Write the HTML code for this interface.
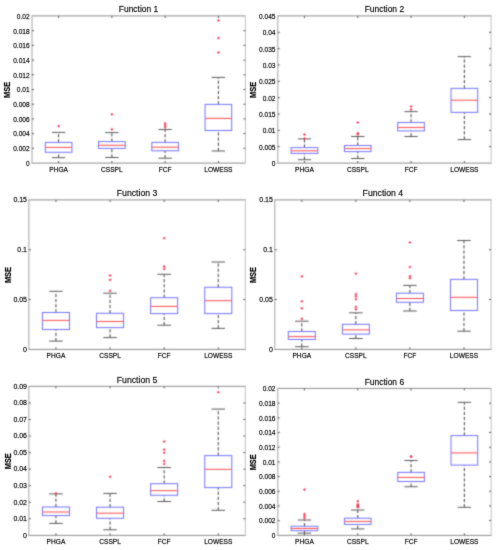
<!DOCTYPE html>
<html><head><meta charset="utf-8"><title>Boxplots</title>
<style>
html,body{margin:0;padding:0;background:#fff;}
body{width:496px;height:550px;overflow:hidden;}
svg{display:block;}
text{font-family:"Liberation Sans",Arial,Helvetica,sans-serif;fill:#000;stroke:#000;stroke-width:0.3px;stroke-opacity:0.5;}
.tl{font-size:6.6px;}
.tt{font-size:8.7px;}
.yl{font-size:7.4px;font-weight:bold;}
</style></head><body>
<svg width="496" height="550" viewBox="0 0 496 550">
<defs><filter id="bl" x="0" y="0" width="496" height="550" filterUnits="userSpaceOnUse" color-interpolation-filters="sRGB"><feConvolveMatrix order="3" kernelMatrix="0.0324 0.1152 0.0324 0.1152 0.4096 0.1152 0.0324 0.1152 0.0324" edgeMode="duplicate"/></filter><filter id="bt" x="0" y="0" width="496" height="550" filterUnits="userSpaceOnUse" color-interpolation-filters="sRGB"><feConvolveMatrix order="3" kernelMatrix="0.0100 0.0800 0.0100 0.0800 0.6400 0.0800 0.0100 0.0800 0.0100" edgeMode="duplicate"/></filter></defs>
<g filter="url(#bl)">
<rect width="496" height="550" fill="#fff"/>
<path d="M113 185.6H159M360 185.6H407" stroke="#efefef" stroke-width="1" stroke-dasharray="2 1" fill="none"/>
<g>
<path d="M31.5 15.9H245.5M31.5 163.1H245.5" stroke="#8c8c8c" stroke-width="1" fill="none"/>
<path d="M32 16V163" stroke="#a4a4a4" stroke-width="1" fill="none"/>
<path d="M245.4 16V163" stroke="#c0c0c0" stroke-width="1" fill="none"/>
<path d="M32 148.3h2M245.4 148.3h-2M32 133.6h2M245.4 133.6h-2M32 118.9h2M245.4 118.9h-2M32 104.2h2M245.4 104.2h-2M32 89.5h2M245.4 89.5h-2M32 74.8h2M245.4 74.8h-2M32 60.1h2M245.4 60.1h-2M32 45.4h2M245.4 45.4h-2M32 30.7h2M245.4 30.7h-2M58.62 163v-2M58.62 16v2M111.88 163v-2M111.88 16v2M165.12 163v-2M165.12 16v2M218.38 163v-2M218.38 16v2" stroke="#5a5a5a" stroke-width="1" fill="none"/>
<path d="M58.62 142.4V132.4M58.62 157.7V152.3" stroke="#444444" stroke-width="1.0" stroke-dasharray="3.2 1.95" fill="none"/>
<path d="M51.97 132.4H65.28M51.97 157.7H65.28" stroke="#5a5a5a" stroke-width="1.0" fill="none"/>
<rect x="45.31" y="142.4" width="26.62" height="9.9" fill="none" stroke="#7373ff" stroke-width="1.0"/>
<path d="M45.31 147.4H71.94" stroke="#ff4b4b" stroke-width="1.0" fill="none"/>
<path d="M57.38 126.1h2.5M58.62 124.85v2.5" stroke="#ff2a48" stroke-width="1.0" fill="none"/>
<path d="M111.88 141.6V132.6M111.88 157.5V148.4" stroke="#444444" stroke-width="1.0" stroke-dasharray="3.2 1.95" fill="none"/>
<path d="M105.22 132.6H118.53M105.22 157.5H118.53" stroke="#5a5a5a" stroke-width="1.0" fill="none"/>
<rect x="98.56" y="141.6" width="26.62" height="6.8" fill="none" stroke="#7373ff" stroke-width="1.0"/>
<path d="M98.56 145.3H125.19" stroke="#ff4b4b" stroke-width="1.0" fill="none"/>
<path d="M110.62 114.3h2.5M111.88 113.05v2.5M110.62 129.4h2.5M111.88 128.15v2.5" stroke="#ff2a48" stroke-width="1.0" fill="none"/>
<path d="M165.12 142.4V129.5M165.12 158.2V150.8" stroke="#444444" stroke-width="1.0" stroke-dasharray="3.2 1.95" fill="none"/>
<path d="M158.47 129.5H171.78M158.47 158.2H171.78" stroke="#5a5a5a" stroke-width="1.0" fill="none"/>
<rect x="151.81" y="142.4" width="26.62" height="8.4" fill="none" stroke="#7373ff" stroke-width="1.0"/>
<path d="M151.81 147.2H178.44" stroke="#ff4b4b" stroke-width="1.0" fill="none"/>
<path d="M163.88 123.3h2.5M165.12 122.05v2.5M163.88 125.4h2.5M165.12 124.15v2.5M163.88 127.4h2.5M165.12 126.15v2.5" stroke="#ff2a48" stroke-width="1.0" fill="none"/>
<path d="M218.38 104.4V77.4M218.38 151V130.5" stroke="#444444" stroke-width="1.0" stroke-dasharray="3.2 1.95" fill="none"/>
<path d="M211.72 77.4H225.03M211.72 151H225.03" stroke="#5a5a5a" stroke-width="1.0" fill="none"/>
<rect x="205.06" y="104.4" width="26.62" height="26.1" fill="none" stroke="#7373ff" stroke-width="1.0"/>
<path d="M205.06 118.4H231.69" stroke="#ff4b4b" stroke-width="1.0" fill="none"/>
<path d="M217.12 20.5h2.5M218.38 19.25v2.5M217.12 38h2.5M218.38 36.75v2.5M217.12 52.5h2.5M218.38 51.25v2.5" stroke="#ff2a48" stroke-width="1.0" fill="none"/>
</g>
<g>
<path d="M277.3 15.9H491.5M277.3 163.1H491.5" stroke="#8c8c8c" stroke-width="1" fill="none"/>
<path d="M277.8 16V163" stroke="#a4a4a4" stroke-width="1" fill="none"/>
<path d="M491.05 16V163" stroke="#c0c0c0" stroke-width="1" fill="none"/>
<path d="M277.8 146.67h2M491.05 146.67h-2M277.8 130.33h2M491.05 130.33h-2M277.8 114h2M491.05 114h-2M277.8 97.67h2M491.05 97.67h-2M277.8 81.33h2M491.05 81.33h-2M277.8 65h2M491.05 65h-2M277.8 48.67h2M491.05 48.67h-2M277.8 32.33h2M491.05 32.33h-2M304.45 163v-2M304.45 16v2M357.75 163v-2M357.75 16v2M411.05 163v-2M411.05 16v2M464.35 163v-2M464.35 16v2" stroke="#5a5a5a" stroke-width="1" fill="none"/>
<path d="M304.45 147.6V138.9M304.45 159.7V153.4" stroke="#444444" stroke-width="1.0" stroke-dasharray="3.2 1.95" fill="none"/>
<path d="M297.79 138.9H311.11M297.79 159.7H311.11" stroke="#5a5a5a" stroke-width="1.0" fill="none"/>
<rect x="291.12" y="147.6" width="26.65" height="5.8" fill="none" stroke="#7373ff" stroke-width="1.0"/>
<path d="M291.12 150.8H317.77" stroke="#ff4b4b" stroke-width="1.0" fill="none"/>
<path d="M303.2 134.5h2.5M304.45 133.25v2.5M303.2 138.5h2.5M304.45 137.25v2.5" stroke="#ff2a48" stroke-width="1.0" fill="none"/>
<path d="M357.75 145.5V136.5M357.75 158.5V151.6" stroke="#444444" stroke-width="1.0" stroke-dasharray="3.2 1.95" fill="none"/>
<path d="M351.09 136.5H364.41M351.09 158.5H364.41" stroke="#5a5a5a" stroke-width="1.0" fill="none"/>
<rect x="344.43" y="145.5" width="26.65" height="6.1" fill="none" stroke="#7373ff" stroke-width="1.0"/>
<path d="M344.43 148.6H371.07" stroke="#ff4b4b" stroke-width="1.0" fill="none"/>
<path d="M356.5 122.5h2.5M357.75 121.25v2.5M356.5 133.2h2.5M357.75 131.95v2.5M356.5 134.4h2.5M357.75 133.15v2.5" stroke="#ff2a48" stroke-width="1.0" fill="none"/>
<path d="M411.05 122.5V111.6M411.05 136.5V130.9" stroke="#444444" stroke-width="1.0" stroke-dasharray="3.2 1.95" fill="none"/>
<path d="M404.39 111.6H417.71M404.39 136.5H417.71" stroke="#5a5a5a" stroke-width="1.0" fill="none"/>
<rect x="397.73" y="122.5" width="26.65" height="8.4" fill="none" stroke="#7373ff" stroke-width="1.0"/>
<path d="M397.73 127.5H424.38" stroke="#ff4b4b" stroke-width="1.0" fill="none"/>
<path d="M409.8 106.5h2.5M411.05 105.25v2.5M409.8 109.6h2.5M411.05 108.35v2.5" stroke="#ff2a48" stroke-width="1.0" fill="none"/>
<path d="M464.35 88.4V56.6M464.35 139.6V112.4" stroke="#444444" stroke-width="1.0" stroke-dasharray="3.2 1.95" fill="none"/>
<path d="M457.69 56.6H471.01M457.69 139.6H471.01" stroke="#5a5a5a" stroke-width="1.0" fill="none"/>
<rect x="451.03" y="88.4" width="26.65" height="24" fill="none" stroke="#7373ff" stroke-width="1.0"/>
<path d="M451.03 100.2H477.68" stroke="#ff4b4b" stroke-width="1.0" fill="none"/>
</g>
<g>
<path d="M28.4 199.9H245.8M28.4 349.4H245.8" stroke="#8c8c8c" stroke-width="1" fill="none"/>
<path d="M28.9 200V349.3" stroke="#a4a4a4" stroke-width="1" fill="none"/>
<path d="M245.3 200V349.3" stroke="#c0c0c0" stroke-width="1" fill="none"/>
<path d="M28.9 299.53h2M245.3 299.53h-2M28.9 249.77h2M245.3 249.77h-2M55.95 349.3v-2M55.95 200v2M110.05 349.3v-2M110.05 200v2M164.15 349.3v-2M164.15 200v2M218.25 349.3v-2M218.25 200v2" stroke="#5a5a5a" stroke-width="1" fill="none"/>
<path d="M55.95 312.5V291.3M55.95 341.1V329.5" stroke="#444444" stroke-width="1.0" stroke-dasharray="3.2 1.95" fill="none"/>
<path d="M49.19 291.3H62.71M49.19 341.1H62.71" stroke="#5a5a5a" stroke-width="1.0" fill="none"/>
<rect x="42.43" y="312.5" width="27.05" height="17" fill="none" stroke="#7373ff" stroke-width="1.0"/>
<path d="M42.43 320.4H69.48" stroke="#ff4b4b" stroke-width="1.0" fill="none"/>
<path d="M110.05 313.3V293.2M110.05 337.6V327.6" stroke="#444444" stroke-width="1.0" stroke-dasharray="3.2 1.95" fill="none"/>
<path d="M103.29 293.2H116.81M103.29 337.6H116.81" stroke="#5a5a5a" stroke-width="1.0" fill="none"/>
<rect x="96.53" y="313.3" width="27.05" height="14.3" fill="none" stroke="#7373ff" stroke-width="1.0"/>
<path d="M96.53 321.5H123.58" stroke="#ff4b4b" stroke-width="1.0" fill="none"/>
<path d="M108.8 275.5h2.5M110.05 274.25v2.5M108.8 279.9h2.5M110.05 278.65v2.5M108.8 290.9h2.5M110.05 289.65v2.5" stroke="#ff2a48" stroke-width="1.0" fill="none"/>
<path d="M164.15 297.7V274.3M164.15 325.2V313.6" stroke="#444444" stroke-width="1.0" stroke-dasharray="3.2 1.95" fill="none"/>
<path d="M157.39 274.3H170.91M157.39 325.2H170.91" stroke="#5a5a5a" stroke-width="1.0" fill="none"/>
<rect x="150.62" y="297.7" width="27.05" height="15.9" fill="none" stroke="#7373ff" stroke-width="1.0"/>
<path d="M150.62 306.4H177.68" stroke="#ff4b4b" stroke-width="1.0" fill="none"/>
<path d="M162.9 238.2h2.5M164.15 236.95v2.5M162.9 266.4h2.5M164.15 265.15v2.5M162.9 268.9h2.5M164.15 267.65v2.5" stroke="#ff2a48" stroke-width="1.0" fill="none"/>
<path d="M218.25 287.3V262M218.25 328.4V313.6" stroke="#444444" stroke-width="1.0" stroke-dasharray="3.2 1.95" fill="none"/>
<path d="M211.49 262H225.01M211.49 328.4H225.01" stroke="#5a5a5a" stroke-width="1.0" fill="none"/>
<rect x="204.72" y="287.3" width="27.05" height="26.3" fill="none" stroke="#7373ff" stroke-width="1.0"/>
<path d="M204.72 300.7H231.78" stroke="#ff4b4b" stroke-width="1.0" fill="none"/>
</g>
<g>
<path d="M274.3 199.9H491.5M274.3 349.4H491.5" stroke="#8c8c8c" stroke-width="1" fill="none"/>
<path d="M274.8 200V349.3" stroke="#a4a4a4" stroke-width="1" fill="none"/>
<path d="M491 200V349.3" stroke="#c0c0c0" stroke-width="1" fill="none"/>
<path d="M274.8 299.53h2M491 299.53h-2M274.8 249.77h2M491 249.77h-2M301.82 349.3v-2M301.82 200v2M355.88 349.3v-2M355.88 200v2M409.93 349.3v-2M409.93 200v2M463.98 349.3v-2M463.98 200v2" stroke="#5a5a5a" stroke-width="1" fill="none"/>
<path d="M301.82 331.5V321.2M301.82 346.7V339.5" stroke="#444444" stroke-width="1.0" stroke-dasharray="3.2 1.95" fill="none"/>
<path d="M295.07 321.2H308.58M295.07 346.7H308.58" stroke="#5a5a5a" stroke-width="1.0" fill="none"/>
<rect x="288.31" y="331.5" width="27.02" height="8" fill="none" stroke="#7373ff" stroke-width="1.0"/>
<path d="M288.31 336.6H315.34" stroke="#ff4b4b" stroke-width="1.0" fill="none"/>
<path d="M300.57 276.4h2.5M301.82 275.15v2.5M300.57 301.4h2.5M301.82 300.15v2.5M300.57 308.3h2.5M301.82 307.05v2.5M300.57 318.9h2.5M301.82 317.65v2.5" stroke="#ff2a48" stroke-width="1.0" fill="none"/>
<path d="M355.88 324.3V312.8M355.88 338.5V334.1" stroke="#444444" stroke-width="1.0" stroke-dasharray="3.2 1.95" fill="none"/>
<path d="M349.12 312.8H362.63M349.12 338.5H362.63" stroke="#5a5a5a" stroke-width="1.0" fill="none"/>
<rect x="342.36" y="324.3" width="27.02" height="9.8" fill="none" stroke="#7373ff" stroke-width="1.0"/>
<path d="M342.36 329.9H369.39" stroke="#ff4b4b" stroke-width="1.0" fill="none"/>
<path d="M354.62 273.7h2.5M355.88 272.45v2.5M354.62 294.1h2.5M355.88 292.85v2.5M354.62 296.3h2.5M355.88 295.05v2.5M354.62 299.2h2.5M355.88 297.95v2.5M354.62 306.9h2.5M355.88 305.65v2.5M354.62 309.4h2.5M355.88 308.15v2.5" stroke="#ff2a48" stroke-width="1.0" fill="none"/>
<path d="M409.93 293.2V285.4M409.93 311V302.3" stroke="#444444" stroke-width="1.0" stroke-dasharray="3.2 1.95" fill="none"/>
<path d="M403.17 285.4H416.68M403.17 311H416.68" stroke="#5a5a5a" stroke-width="1.0" fill="none"/>
<rect x="396.41" y="293.2" width="27.02" height="9.1" fill="none" stroke="#7373ff" stroke-width="1.0"/>
<path d="M396.41 298.5H423.44" stroke="#ff4b4b" stroke-width="1.0" fill="none"/>
<path d="M408.68 242.5h2.5M409.93 241.25v2.5M408.68 267h2.5M409.93 265.75v2.5M408.68 276.2h2.5M409.93 274.95v2.5M408.68 278.2h2.5M409.93 276.95v2.5" stroke="#ff2a48" stroke-width="1.0" fill="none"/>
<path d="M463.98 279.4V240.5M463.98 331.2V310.5" stroke="#444444" stroke-width="1.0" stroke-dasharray="3.2 1.95" fill="none"/>
<path d="M457.22 240.5H470.73M457.22 331.2H470.73" stroke="#5a5a5a" stroke-width="1.0" fill="none"/>
<rect x="450.46" y="279.4" width="27.02" height="31.1" fill="none" stroke="#7373ff" stroke-width="1.0"/>
<path d="M450.46 297.3H477.49" stroke="#ff4b4b" stroke-width="1.0" fill="none"/>
</g>
<g>
<path d="M28.4 386.3H245.8M28.4 535.4H245.8" stroke="#8c8c8c" stroke-width="1" fill="none"/>
<path d="M28.9 386.4V535.3" stroke="#a4a4a4" stroke-width="1" fill="none"/>
<path d="M245.3 386.4V535.3" stroke="#c0c0c0" stroke-width="1" fill="none"/>
<path d="M28.9 518.76h2M245.3 518.76h-2M28.9 502.21h2M245.3 502.21h-2M28.9 485.67h2M245.3 485.67h-2M28.9 469.12h2M245.3 469.12h-2M28.9 452.58h2M245.3 452.58h-2M28.9 436.03h2M245.3 436.03h-2M28.9 419.49h2M245.3 419.49h-2M28.9 402.94h2M245.3 402.94h-2M55.95 535.3v-2M55.95 386.4v2M110.05 535.3v-2M110.05 386.4v2M164.15 535.3v-2M164.15 386.4v2M218.25 535.3v-2M218.25 386.4v2" stroke="#5a5a5a" stroke-width="1" fill="none"/>
<path d="M55.95 507V493.9M55.95 523.4V515.6" stroke="#444444" stroke-width="1.0" stroke-dasharray="3.2 1.95" fill="none"/>
<path d="M49.19 493.9H62.71M49.19 523.4H62.71" stroke="#5a5a5a" stroke-width="1.0" fill="none"/>
<rect x="42.43" y="507" width="27.05" height="8.6" fill="none" stroke="#7373ff" stroke-width="1.0"/>
<path d="M42.43 512H69.48" stroke="#ff4b4b" stroke-width="1.0" fill="none"/>
<path d="M54.7 493.4h2.5M55.95 492.15v2.5" stroke="#ff2a48" stroke-width="1.0" fill="none"/>
<path d="M110.05 507.2V493.4M110.05 529.8V518.3" stroke="#444444" stroke-width="1.0" stroke-dasharray="3.2 1.95" fill="none"/>
<path d="M103.29 493.4H116.81M103.29 529.8H116.81" stroke="#5a5a5a" stroke-width="1.0" fill="none"/>
<rect x="96.53" y="507.2" width="27.05" height="11.1" fill="none" stroke="#7373ff" stroke-width="1.0"/>
<path d="M96.53 513.2H123.58" stroke="#ff4b4b" stroke-width="1.0" fill="none"/>
<path d="M108.8 476.8h2.5M110.05 475.55v2.5" stroke="#ff2a48" stroke-width="1.0" fill="none"/>
<path d="M164.15 483.7V467.5M164.15 501.5V495.3" stroke="#444444" stroke-width="1.0" stroke-dasharray="3.2 1.95" fill="none"/>
<path d="M157.39 467.5H170.91M157.39 501.5H170.91" stroke="#5a5a5a" stroke-width="1.0" fill="none"/>
<rect x="150.62" y="483.7" width="27.05" height="11.6" fill="none" stroke="#7373ff" stroke-width="1.0"/>
<path d="M150.62 490.7H177.68" stroke="#ff4b4b" stroke-width="1.0" fill="none"/>
<path d="M162.9 441.6h2.5M164.15 440.35v2.5M162.9 449.6h2.5M164.15 448.35v2.5M162.9 452.8h2.5M164.15 451.55v2.5M162.9 460.9h2.5M164.15 459.65v2.5M162.9 464h2.5M164.15 462.75v2.5" stroke="#ff2a48" stroke-width="1.0" fill="none"/>
<path d="M218.25 455.6V409.1M218.25 510.3V487.6" stroke="#444444" stroke-width="1.0" stroke-dasharray="3.2 1.95" fill="none"/>
<path d="M211.49 409.1H225.01M211.49 510.3H225.01" stroke="#5a5a5a" stroke-width="1.0" fill="none"/>
<rect x="204.72" y="455.6" width="27.05" height="32" fill="none" stroke="#7373ff" stroke-width="1.0"/>
<path d="M204.72 469.3H231.78" stroke="#ff4b4b" stroke-width="1.0" fill="none"/>
<path d="M217 392.2h2.5M218.25 390.95v2.5" stroke="#ff2a48" stroke-width="1.0" fill="none"/>
</g>
<g>
<path d="M277.3 388.4H491.5M277.3 535.4H491.5" stroke="#8c8c8c" stroke-width="1" fill="none"/>
<path d="M277.8 388.5V535.3" stroke="#a4a4a4" stroke-width="1" fill="none"/>
<path d="M491.1 388.5V535.3" stroke="#c0c0c0" stroke-width="1" fill="none"/>
<path d="M277.8 520.62h2M491.1 520.62h-2M277.8 505.94h2M491.1 505.94h-2M277.8 491.26h2M491.1 491.26h-2M277.8 476.58h2M491.1 476.58h-2M277.8 461.9h2M491.1 461.9h-2M277.8 447.22h2M491.1 447.22h-2M277.8 432.54h2M491.1 432.54h-2M277.8 417.86h2M491.1 417.86h-2M277.8 403.18h2M491.1 403.18h-2M304.45 535.3v-2M304.45 388.5v2M357.75 535.3v-2M357.75 388.5v2M411.05 535.3v-2M411.05 388.5v2M464.35 535.3v-2M464.35 388.5v2" stroke="#5a5a5a" stroke-width="1" fill="none"/>
<path d="M304.45 526.3V520M304.45 533.2V530.7" stroke="#444444" stroke-width="1.0" stroke-dasharray="3.2 1.95" fill="none"/>
<path d="M297.79 520H311.11M297.79 533.2H311.11" stroke="#5a5a5a" stroke-width="1.0" fill="none"/>
<rect x="291.12" y="526.3" width="26.65" height="4.4" fill="none" stroke="#7373ff" stroke-width="1.0"/>
<path d="M291.12 528.5H317.77" stroke="#ff4b4b" stroke-width="1.0" fill="none"/>
<path d="M303.2 489.6h2.5M304.45 488.35v2.5M303.2 514.1h2.5M304.45 512.85v2.5M303.2 516h2.5M304.45 514.75v2.5M303.2 518.1h2.5M304.45 516.85v2.5" stroke="#ff2a48" stroke-width="1.0" fill="none"/>
<path d="M357.75 518.2V510M357.75 528.9V524.4" stroke="#444444" stroke-width="1.0" stroke-dasharray="3.2 1.95" fill="none"/>
<path d="M351.09 510H364.41M351.09 528.9H364.41" stroke="#5a5a5a" stroke-width="1.0" fill="none"/>
<rect x="344.43" y="518.2" width="26.65" height="6.2" fill="none" stroke="#7373ff" stroke-width="1.0"/>
<path d="M344.43 521.4H371.07" stroke="#ff4b4b" stroke-width="1.0" fill="none"/>
<path d="M356.5 501.2h2.5M357.75 499.95v2.5M356.5 504.3h2.5M357.75 503.05v2.5M356.5 505.5h2.5M357.75 504.25v2.5M356.5 506.5h2.5M357.75 505.25v2.5M356.5 507.3h2.5M357.75 506.05v2.5" stroke="#ff2a48" stroke-width="1.0" fill="none"/>
<path d="M411.05 472.4V460.5M411.05 486.7V481.5" stroke="#444444" stroke-width="1.0" stroke-dasharray="3.2 1.95" fill="none"/>
<path d="M404.39 460.5H417.71M404.39 486.7H417.71" stroke="#5a5a5a" stroke-width="1.0" fill="none"/>
<rect x="397.73" y="472.4" width="26.65" height="9.1" fill="none" stroke="#7373ff" stroke-width="1.0"/>
<path d="M397.73 477.4H424.38" stroke="#ff4b4b" stroke-width="1.0" fill="none"/>
<path d="M409.8 456.3h2.5M411.05 455.05v2.5M409.8 456.8h2.5M411.05 455.55v2.5" stroke="#ff2a48" stroke-width="1.0" fill="none"/>
<path d="M464.35 435.6V402.3M464.35 507.3V465.1" stroke="#444444" stroke-width="1.0" stroke-dasharray="3.2 1.95" fill="none"/>
<path d="M457.69 402.3H471.01M457.69 507.3H471.01" stroke="#5a5a5a" stroke-width="1.0" fill="none"/>
<rect x="451.03" y="435.6" width="26.65" height="29.5" fill="none" stroke="#7373ff" stroke-width="1.0"/>
<path d="M451.03 452.9H477.68" stroke="#ff4b4b" stroke-width="1.0" fill="none"/>
</g>
</g>
<g filter="url(#bt)">
<text class="tl" x="29.7" y="165.84" text-anchor="end" style="font-size:6.6px">0</text>
<text class="tl" x="29.7" y="151.14" text-anchor="end" style="font-size:6.6px">0.002</text>
<text class="tl" x="29.7" y="136.44" text-anchor="end" style="font-size:6.6px">0.004</text>
<text class="tl" x="29.7" y="121.74" text-anchor="end" style="font-size:6.6px">0.006</text>
<text class="tl" x="29.7" y="107.04" text-anchor="end" style="font-size:6.6px">0.008</text>
<text class="tl" x="29.7" y="92.34" text-anchor="end" style="font-size:6.6px">0.01</text>
<text class="tl" x="29.7" y="77.64" text-anchor="end" style="font-size:6.6px">0.012</text>
<text class="tl" x="29.7" y="62.94" text-anchor="end" style="font-size:6.6px">0.014</text>
<text class="tl" x="29.7" y="48.24" text-anchor="end" style="font-size:6.6px">0.016</text>
<text class="tl" x="29.7" y="33.54" text-anchor="end" style="font-size:6.6px">0.018</text>
<text class="tl" x="29.7" y="18.84" text-anchor="end" style="font-size:6.6px">0.02</text>
<text class="tl" x="58.62" y="171.8" text-anchor="middle">PHGA</text>
<text class="tl" x="111.88" y="171.8" text-anchor="middle">CSSPL</text>
<text class="tl" x="165.12" y="171.8" text-anchor="middle">FCF</text>
<text class="tl" x="218.38" y="171.8" text-anchor="middle">LOWESS</text>
<text class="tt" x="138.5" y="12.2" text-anchor="middle" style="font-size:8.45px">Function 1</text>
<text class="yl" x="0" y="0" text-anchor="middle" transform="translate(10.15 89.9) rotate(-90) scale(1 1.12)">MSE</text>
<text class="tl" x="275.5" y="165.84" text-anchor="end" style="font-size:6.6px">0</text>
<text class="tl" x="275.5" y="149.51" text-anchor="end" style="font-size:6.6px">0.005</text>
<text class="tl" x="275.5" y="133.18" text-anchor="end" style="font-size:6.6px">0.01</text>
<text class="tl" x="275.5" y="116.84" text-anchor="end" style="font-size:6.6px">0.015</text>
<text class="tl" x="275.5" y="100.51" text-anchor="end" style="font-size:6.6px">0.02</text>
<text class="tl" x="275.5" y="84.18" text-anchor="end" style="font-size:6.6px">0.025</text>
<text class="tl" x="275.5" y="67.84" text-anchor="end" style="font-size:6.6px">0.03</text>
<text class="tl" x="275.5" y="51.51" text-anchor="end" style="font-size:6.6px">0.035</text>
<text class="tl" x="275.5" y="35.18" text-anchor="end" style="font-size:6.6px">0.04</text>
<text class="tl" x="275.5" y="18.84" text-anchor="end" style="font-size:6.6px">0.045</text>
<text class="tl" x="304.45" y="171.8" text-anchor="middle">PHGA</text>
<text class="tl" x="357.75" y="171.8" text-anchor="middle">CSSPL</text>
<text class="tl" x="411.05" y="171.8" text-anchor="middle">FCF</text>
<text class="tl" x="464.35" y="171.8" text-anchor="middle">LOWESS</text>
<text class="tt" x="384.4" y="12.2" text-anchor="middle" style="font-size:8.45px">Function 2</text>
<text class="yl" x="0" y="0" text-anchor="middle" transform="translate(256.1 89.9) rotate(-90) scale(1 1.12)">MSE</text>
<text class="tl" x="27" y="351.59" text-anchor="end" style="font-size:7.0px">0</text>
<text class="tl" x="27" y="301.82" text-anchor="end" style="font-size:7.0px">0.05</text>
<text class="tl" x="27" y="252.06" text-anchor="end" style="font-size:7.0px">0.1</text>
<text class="tl" x="27" y="202.29" text-anchor="end" style="font-size:7.0px">0.15</text>
<text class="tl" x="55.95" y="358.1" text-anchor="middle">PHGA</text>
<text class="tl" x="110.05" y="358.1" text-anchor="middle">CSSPL</text>
<text class="tl" x="164.15" y="358.1" text-anchor="middle">FCF</text>
<text class="tl" x="218.25" y="358.1" text-anchor="middle">LOWESS</text>
<text class="tt" x="137.1" y="196.2" text-anchor="middle" style="font-size:8.7px">Function 3</text>
<text class="yl" x="0" y="0" text-anchor="middle" transform="translate(10.95 275.05) rotate(-90) scale(1 1.12)">MSE</text>
<text class="tl" x="272.9" y="351.59" text-anchor="end" style="font-size:7.0px">0</text>
<text class="tl" x="272.9" y="301.82" text-anchor="end" style="font-size:7.0px">0.05</text>
<text class="tl" x="272.9" y="252.06" text-anchor="end" style="font-size:7.0px">0.1</text>
<text class="tl" x="272.9" y="202.29" text-anchor="end" style="font-size:7.0px">0.15</text>
<text class="tl" x="301.82" y="358.1" text-anchor="middle">PHGA</text>
<text class="tl" x="355.88" y="358.1" text-anchor="middle">CSSPL</text>
<text class="tl" x="409.93" y="358.1" text-anchor="middle">FCF</text>
<text class="tl" x="463.98" y="358.1" text-anchor="middle">LOWESS</text>
<text class="tt" x="382.9" y="196.2" text-anchor="middle" style="font-size:8.7px">Function 4</text>
<text class="yl" x="0" y="0" text-anchor="middle" transform="translate(256.45 275.05) rotate(-90) scale(1 1.12)">MSE</text>
<text class="tl" x="27" y="537.59" text-anchor="end" style="font-size:7.0px">0</text>
<text class="tl" x="27" y="521.05" text-anchor="end" style="font-size:7.0px">0.01</text>
<text class="tl" x="27" y="504.5" text-anchor="end" style="font-size:7.0px">0.02</text>
<text class="tl" x="27" y="487.96" text-anchor="end" style="font-size:7.0px">0.03</text>
<text class="tl" x="27" y="471.41" text-anchor="end" style="font-size:7.0px">0.04</text>
<text class="tl" x="27" y="454.87" text-anchor="end" style="font-size:7.0px">0.05</text>
<text class="tl" x="27" y="438.32" text-anchor="end" style="font-size:7.0px">0.06</text>
<text class="tl" x="27" y="421.78" text-anchor="end" style="font-size:7.0px">0.07</text>
<text class="tl" x="27" y="405.23" text-anchor="end" style="font-size:7.0px">0.08</text>
<text class="tl" x="27" y="388.69" text-anchor="end" style="font-size:7.0px">0.09</text>
<text class="tl" x="55.95" y="544.1" text-anchor="middle">PHGA</text>
<text class="tl" x="110.05" y="544.1" text-anchor="middle">CSSPL</text>
<text class="tl" x="164.15" y="544.1" text-anchor="middle">FCF</text>
<text class="tl" x="218.25" y="544.1" text-anchor="middle">LOWESS</text>
<text class="tt" x="137.1" y="382.6" text-anchor="middle" style="font-size:8.7px">Function 5</text>
<text class="yl" x="0" y="0" text-anchor="middle" transform="translate(10.85 461.25) rotate(-90) scale(1 1.12)">MSE</text>
<text class="tl" x="275.5" y="538.14" text-anchor="end" style="font-size:6.6px">0</text>
<text class="tl" x="275.5" y="523.46" text-anchor="end" style="font-size:6.6px">0.002</text>
<text class="tl" x="275.5" y="508.78" text-anchor="end" style="font-size:6.6px">0.004</text>
<text class="tl" x="275.5" y="494.1" text-anchor="end" style="font-size:6.6px">0.006</text>
<text class="tl" x="275.5" y="479.42" text-anchor="end" style="font-size:6.6px">0.008</text>
<text class="tl" x="275.5" y="464.74" text-anchor="end" style="font-size:6.6px">0.01</text>
<text class="tl" x="275.5" y="450.06" text-anchor="end" style="font-size:6.6px">0.012</text>
<text class="tl" x="275.5" y="435.38" text-anchor="end" style="font-size:6.6px">0.014</text>
<text class="tl" x="275.5" y="420.7" text-anchor="end" style="font-size:6.6px">0.016</text>
<text class="tl" x="275.5" y="406.02" text-anchor="end" style="font-size:6.6px">0.018</text>
<text class="tl" x="275.5" y="391.34" text-anchor="end" style="font-size:6.6px">0.02</text>
<text class="tl" x="304.45" y="544.1" text-anchor="middle">PHGA</text>
<text class="tl" x="357.75" y="544.1" text-anchor="middle">CSSPL</text>
<text class="tl" x="411.05" y="544.1" text-anchor="middle">FCF</text>
<text class="tl" x="464.35" y="544.1" text-anchor="middle">LOWESS</text>
<text class="tt" x="384.4" y="384.7" text-anchor="middle" style="font-size:8.45px">Function 6</text>
<text class="yl" x="0" y="0" text-anchor="middle" transform="translate(256.15 462.3) rotate(-90) scale(1 1.12)">MSE</text>
</g>
</svg>
</body></html>
